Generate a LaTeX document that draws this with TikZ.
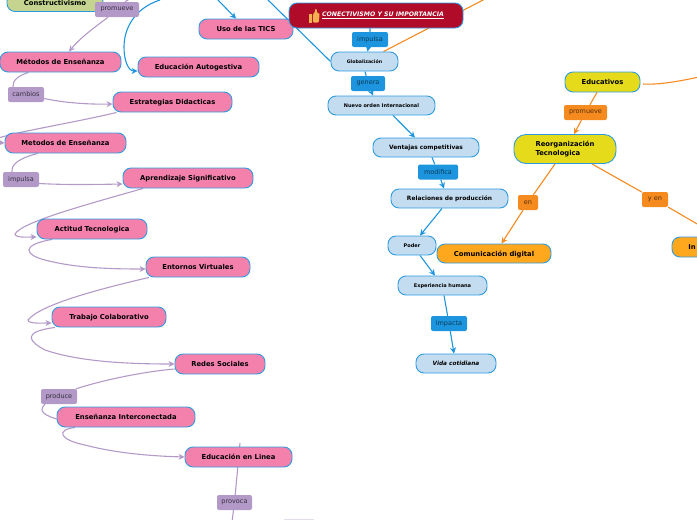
\documentclass[tikz,border=0pt]{standalone}
\usepackage{fontspec}
\setmainfont{DejaVu Sans}
\usetikzlibrary{arrows.meta,backgrounds}
\definecolor{bordblue}{HTML}{2E9BE0}
\definecolor{pinkf}{HTML}{F481AC}
\definecolor{lightb}{HTML}{C3DCF0}
\definecolor{redf}{HTML}{B00B28}
\definecolor{labblue}{HTML}{1C95DE}
\definecolor{labpurple}{HTML}{B399C8}
\definecolor{laborange}{HTML}{F58A1F}
\definecolor{commf}{HTML}{FFA81E}
\definecolor{yellowf}{HTML}{E6DB1A}
\definecolor{greenf}{HTML}{C5D58F}
\definecolor{thumbf}{HTML}{F2B04E}
\tikzset{
  x=1pt,y=-1pt,
  box/.style={draw=bordblue,line width=0.9pt,rounded corners=8pt,inner sep=0pt,align=center,text=black,font=\fontsize{6.8}{8.6}\selectfont\bfseries},
  capbig/.style={text height=5pt,text depth=0pt},
  capmid/.style={text height=4.4pt,text depth=0pt},
  capsmall/.style={text height=3.8pt,text depth=0pt},
  pinkbox/.style={box,capbig,fill=pinkf,minimum height=20pt},
  bluebox/.style={box,capmid,fill=lightb,minimum height=19pt,font=\fontsize{5.9}{7}\selectfont\bfseries},
  tinybox/.style={bluebox,capsmall,font=\fontsize{5}{6}\selectfont\bfseries},
  lab/.style={rounded corners=2pt,inner sep=0pt,minimum height=15pt,font=\fontsize{6.5}{7}\selectfont},
  purplelab/.style={lab,fill=labpurple,text=black!70!labpurple},
  bluelab/.style={lab,fill=labblue,text=black!60!labblue},
  orangelab/.style={lab,fill=laborange,text=black!65!laborange},
  pconn/.style={draw=labpurple,line width=1.1pt},
  bconn/.style={draw=labblue,line width=1.1pt},
  oconn/.style={draw=laborange,line width=1.1pt},
  tip/.style={-{Stealth[length=6pt,width=6pt]}},
}
\begin{document}
\begin{tikzpicture}
\path[use as bounding box] (0,0) rectangle (697,520);
% left column
\node[box,capbig,fill=greenf,minimum width=96pt,minimum height=18pt] (cons) at (55,2.5) {Constructivismo};
\node[purplelab,minimum width=44pt] (prom1) at (117,9.5) {promueve};
\node[pinkbox,minimum width=121pt] (m1) at (60.5,62) {Métodos de Enseñanza};
\node[pinkbox,minimum width=121pt] (auto) at (198.5,67) {Educación Autogestiva};
\node[pinkbox,minimum width=94pt] (tics) at (246,29) {Uso de las TICS};
\node[purplelab,minimum width=36pt] (camb) at (26,94.5) {cambios};
\node[pinkbox,minimum width=119pt] (estr) at (172.5,102) {Estrategias Didacticas};
\node[pinkbox,minimum width=121pt] (m2) at (65.5,143) {Metodos de Enseñanza};
\node[purplelab,minimum width=36pt] (imp2) at (21,179.5) {impulsa};
\node[pinkbox,minimum width=130pt] (apr) at (188,178) {Aprendizaje Significativo};
\node[pinkbox,minimum width=110pt] (act) at (92,229) {Actitud Tecnologica};
\node[pinkbox,minimum width=104pt] (ent) at (198,267) {Entornos Virtuales};
\node[pinkbox,minimum width=114pt] (tra) at (109,317) {Trabajo Colaborativo};
\node[pinkbox,minimum width=90pt] (red) at (220,364) {Redes Sociales};
\node[purplelab,minimum width=36pt] (prod) at (59,396.5) {produce};
\node[pinkbox,minimum width=138pt] (ens) at (126,417) {Enseñanza Interconectada};
\node[pinkbox,minimum width=107pt] (edu) at (238.5,457) {Educación en Linea};
\node[purplelab,minimum width=35pt] (prov) at (234.5,502.5) {provoca};
\node[purplelab,minimum width=32pt] (sliver) at (299,527) {};
% centre column
\node[box,fill=redf,minimum width=174pt,minimum height=25pt,text=white,font=\fontsize{6.2}{7}\selectfont\bfseries\itshape] (root) at (376,15.5) {\hspace{14pt}\underline{CONECTIVISMO Y SU IMPORTANCIA}};
\fill[thumbf] (309,14) rectangle (312,22.5);
\fill[thumbf,rounded corners=1pt] (312.8,22.5) -- (312.8,14.5) -- (315,12) -- (315.3,8.5) -- (317,9.5) -- (316.8,13) -- (319.5,13) -- (319.5,15) -- (318.7,22.5) -- cycle;
\node[bluelab,minimum width=36pt] (limp) at (370,39.5) {impulsa};
\node[tinybox,minimum width=67pt,font=\fontsize{4.7}{6}\selectfont\bfseries] (glob) at (364.5,61.5) {Globalización};
\node[bluelab,minimum width=34pt] (lgen) at (368,83.5) {genera};
\node[tinybox,minimum width=107pt] (nuevo) at (381.5,105.5) {Nuevo orden Internacional};
\node[bluebox,minimum width=106pt] (vent) at (426,147.5) {Ventajas competitivas};
\node[bluelab,minimum width=40pt] (lmod) at (438,172) {modifica};
\node[bluebox,minimum width=117pt] (rel) at (449.5,198.5) {Relaciones de producción};
\node[tinybox,minimum width=48pt] (poder) at (412,245.5) {Poder};
\node[tinybox,minimum width=89pt] (exp) at (442.5,285.5) {Experiencia humana};
\node[bluelab,minimum width=36pt] (limpa) at (449,323.5) {impacta};
\node[bluebox,minimum width=80pt,font=\fontsize{5.8}{7}\selectfont\bfseries\itshape] (vida) at (456,363.5) {Vida cotidiana};
% right column
\node[box,capbig,fill=commf,minimum width=114pt,minimum height=19pt] (com) at (494,253.5) {Comunicación digital};
\node[orangelab,minimum width=20pt] (len) at (528,202.5) {en};
\node[box,capbig,fill=yellowf,minimum width=75pt,minimum height=20pt] (educ) at (602.5,82) {Educativos};
\node[orangelab,minimum width=43pt] (lpro) at (585.5,112.5) {promueve};
\node[box,fill=yellowf,minimum width=102pt,minimum height=29pt,rounded corners=12pt,align=left] (reo) at (565,149) {Reorganización\\Tecnologica};
\node[orangelab,minimum width=26pt] (lyen) at (655,199.5) {y en};
\node[box,capbig,fill=commf,minimum width=40pt,minimum height=20pt] (ind) at (692,247) {In};
% free ends
\coordinate (fa) at (133,-3);
\coordinate (fb) at (160,0);
\coordinate (fc) at (218,0);
\coordinate (fd) at (268,0);
\coordinate (fe) at (485,-1);
\coordinate (ff) at (699,77);
\coordinate (fg) at (240,443);
\coordinate (fh) at (232,522);
\coordinate (fi) at (699,225);
\coordinate (fj) at (643,84);
\begin{pgfonlayer}{background}
% purple connectors
\draw[pconn] (fa) -- ([xshift=8pt]prom1.north);
\draw[pconn,tip] ([xshift=-9pt]prom1.south) .. controls (95,27) and (80,38) .. ([xshift=8.5pt]m1.north);
\draw[pconn] ([xshift=-32pt]m1.south) .. controls (20,75) and (12,80) .. ([xshift=-13pt]camb.north);
\draw[pconn,tip] ([yshift=-4pt]camb.east) .. controls (65,103) and (90,104.5) .. ([yshift=-2pt]estr.west);
\draw[pconn,tip] ([xshift=-56pt]estr.south) .. controls (70,124) and (-35,140) .. (m2.west);
\draw[pconn] ([xshift=-28pt]m2.south) .. controls (20,158) and (11,164) .. ([xshift=-9pt]imp2.north);
\draw[pconn,tip] ([yshift=-4pt]imp2.east) .. controls (65,185) and (95,184.5) .. ([yshift=-6pt]apr.west);
\draw[pconn,tip] ([xshift=-45pt]apr.south) .. controls (85,205) and (22,222) .. (15,234) .. controls (15,238) and (28,237) .. ([yshift=-8pt]act.west);
\draw[pconn,tip] ([xshift=-40pt]act.south) .. controls (20,245) and (25,255) .. (45,260) .. controls (75,268) and (110,269) .. ([yshift=-2pt]ent.west);
\draw[pconn,tip] ([xshift=-49pt]ent.south) .. controls (95,290) and (40,305) .. (28,320) .. controls (28,324) and (42,323) .. ([yshift=-6pt]tra.west);
\draw[pconn,tip] ([xshift=-54pt]tra.south) .. controls (20,332) and (30,342) .. (45,350) .. controls (80,362) and (130,364) .. (red.west);
\draw[pconn] ([yshift=-5pt]red.west) .. controls (140,372) and (100,381) .. ([xshift=17pt]prod.north);
\draw[pconn] ([xshift=-14pt]prod.south) .. controls (38,411) and (44,415) .. ([yshift=-2pt]ens.west);
\draw[pconn,tip] ([xshift=-51pt]ens.south) .. controls (55,430) and (60,440) .. (85,445) .. controls (115,453) and (150,456) .. (edu.west);
\draw[pconn] (fg) -- (prov) -- (fh);
% blue connectors
\draw[bconn,tip] (fb) .. controls (135,8) and (124,28) .. (124,47) .. controls (124,60) and (128,71) .. ([yshift=-4pt]auto.west);
\draw[bconn,tip] (fc) -- ([xshift=-10pt]tics.north);
\draw[bconn] (fd) -- (glob.west);
\draw[bconn,tip] (root.south -| limp) -- (limp) -- ([xshift=3pt]glob.north);
\draw[bconn,tip] ([xshift=0.5pt]glob.south) -- (lgen) -- ([xshift=-8.5pt]nuevo.north);
\draw[bconn,tip] ([xshift=11.5pt]nuevo.south) -- ([xshift=-11pt]vent.north);
\draw[bconn,tip] ([xshift=6pt]vent.south) -- (lmod) -- ([xshift=-5.5pt]rel.north);
\draw[bconn,tip] ([xshift=-7.5pt]rel.south) -- ([xshift=8pt]poder.north);
\draw[bconn,tip] ([xshift=8pt]poder.south) -- ([xshift=-7.5pt]exp.north);
\draw[bconn,tip] ([xshift=1.5pt]exp.south) -- (limpa) -- ([xshift=-2pt]vida.north);
% orange connectors
\draw[oconn] ([xshift=19pt]glob.north) -- (fe);
\draw[oconn] (fj) .. controls (660,85) and (680,81) .. (ff);
\draw[oconn,tip] ([xshift=-5.5pt]educ.south) -- (lpro) -- ([xshift=9pt]reo.north);
\draw[oconn,tip] ([xshift=-10pt]reo.south) -- (len) -- ([xshift=7.5pt]com.north);
\draw[oconn] ([xshift=27pt]reo.south) -- (lyen) -- (fi);
\end{pgfonlayer}
\end{tikzpicture}
\end{document}
